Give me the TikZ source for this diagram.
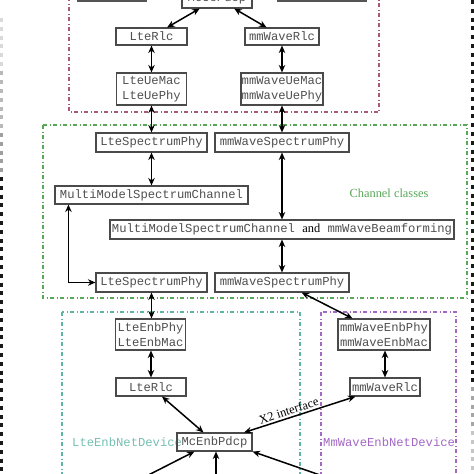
\documentclass[tikz,border=0pt]{standalone}
\usepackage{fontspec}
\setmainfont{Liberation Serif}
\newfontfamily\monofam{Liberation Mono}
\usetikzlibrary{arrows.meta}
\definecolor{boxgray}{HTML}{4A4A4A}
\definecolor{txtgray}{HTML}{505050}
\definecolor{darkbar}{HTML}{555555}
\definecolor{uered}{HTML}{A8587A}
\definecolor{chgreen}{HTML}{58A858}
\definecolor{lteteal}{HTML}{5CB4A4}
\definecolor{mmpurple}{HTML}{A468C4}
\begin{document}
\begin{tikzpicture}[x=1pt,y=-1pt,
  blk/.style={draw=boxgray, line width=1.1pt, fill=white, inner sep=0pt, text=txtgray,
    font=\monofam\fontsize{12.2}{15}\selectfont, align=center},
  bar/.style={fill=darkbar, draw=none, inner sep=0pt},
  dbl/.style={{Stealth[length=7.5pt,width=6.5pt]}-{Stealth[length=7.5pt,width=6.5pt]}, line width=1.5pt},
  one/.style={-{Stealth[length=7.5pt,width=6.5pt]}, line width=1.5pt},
  grp/.style={line width=1.1pt, dash pattern=on 4pt off 2.5pt on 1pt off 2.5pt},
  rim/.style={line width=3pt, dash pattern=on 4pt off 4.8pt},
  serif/.style={font=\fontsize{12.4}{14}\selectfont},
  devlabel/.style={font=\monofam\fontsize{12.2}{15}\selectfont, anchor=west, inner sep=0pt}]
\path[use as bounding box] (0,0) rectangle (474,474);
\clip (0,0) rectangle (474,474);

% outer rims
\draw[rim, gray!30] (1.5,18) -- (1.5,71.4);
\draw[rim, gray!55] (1.5,71.4) -- (1.5,133);
\draw[rim, gray!75] (1.5,133) -- (1.5,177);
\draw[rim, black!90] (1.5,177) -- (1.5,480);
\draw[rim, black!90] (472.5,0) -- (472.5,387);
\draw[rim, gray!70] (472.5,387) -- (472.5,431);
\draw[rim, gray!45] (472.5,431) -- (472.5,480);

% group frames
\draw[grp, uered] (69,-3) rectangle (379,112);
\draw[grp, chgreen] (43,125) rectangle (467,298);
\draw[grp, lteteal] (62,312) rectangle (300,490);
\draw[grp, mmpurple] (321,312) rectangle (456,490);

% top (cropped) boxes
\node[bar, minimum width=70pt, minimum height=22pt] (topl) at (112,-9) {};
\node[bar, minimum width=90pt, minimum height=22pt] (topr) at (322,-9) {};
\node[blk, minimum width=70pt, minimum height=19pt] (mcue) at (217,-1.5) {McUePdcp};

% UE side
\node[blk, minimum width=71pt, minimum height=17pt] (lterlc1) at (151.5,36.5) {LteRlc};
\node[blk, minimum width=74pt, minimum height=17pt] (mmrlc1) at (282,36.5) {mmWaveRlc};
\node[blk, minimum width=70pt, minimum height=32pt] (lteuemac) at (151.5,89) {LteUeMac\\LteUePhy};
\node[blk, minimum width=82pt, minimum height=32pt] (mmuemac) at (282,89) {mmWaveUeMac\\mmWaveUePhy};

% channel classes
\node[blk, minimum width=111pt, minimum height=19pt] (ltesp1) at (151.5,142.5) {LteSpectrumPhy};
\node[blk, minimum width=134pt, minimum height=19pt] (mmsp1) at (282,142.5) {mmWaveSpectrumPhy};
\node[blk, minimum width=193pt, minimum height=18pt] (mmsc) at (151.5,195) {MultiModelSpectrumChannel};
\node[serif, text=chgreen] (chlabel) at (389,193) {Channel classes};
\node[blk, minimum width=344pt, minimum height=19pt] (mmscbf) at (282,229.5)
  {MultiModelSpectrumChannel {\rmfamily\fontsize{12.4}{14}\selectfont\color{black}and} mmWaveBeamforming};
\node[blk, minimum width=111pt, minimum height=19pt] (ltesp2) at (151.5,282.5) {LteSpectrumPhy};
\node[blk, minimum width=134pt, minimum height=19pt] (mmsp2) at (282,282.5) {mmWaveSpectrumPhy};

% eNB side
\node[blk, minimum width=70pt, minimum height=31pt] (lteenbphy) at (150.5,334.5) {LteEnbPhy\\LteEnbMac};
\node[blk, minimum width=70pt, minimum height=18pt] (lterlc2) at (151,387) {LteRlc};
\node[blk, minimum width=92pt, minimum height=31pt] (mmenbphy) at (384,334.5) {mmWaveEnbPhy\\mmWaveEnbMac};
\node[blk, minimum width=70pt, minimum height=18pt] (mmrlc2) at (385,387) {mmWaveRlc};
\node[devlabel, text=lteteal!85] (ltedev) at (72,442) {LteEnbNetDevice};
\node[blk, fill=none, minimum width=75pt, minimum height=18pt] (mcenb) at (214.5,442) {McEnbPdcp};
\node[devlabel, text=mmpurple] (mmdev) at (323,442) {MmWaveEnbNetDevice};

% free ends below the picture
\coordinate (in1) at (119,490);
\coordinate (in2) at (216,490);
\coordinate (in3) at (363,490);

% connectors
\draw[dbl] (mcue) -- (lterlc1);
\draw[dbl] (mcue) -- (mmrlc1);
\draw[dbl] (lterlc1.south) -- (lterlc1.south |- lteuemac.north);
\draw[dbl] (mmrlc1.south) -- (mmrlc1.south |- mmuemac.north);
\draw[dbl] (lteuemac.south) -- (lteuemac.south |- ltesp1.north);
\draw[dbl] (mmuemac.south) -- (mmuemac.south |- mmsp1.north);
\draw[dbl] (ltesp1.south) -- (ltesp1.south |- mmsc.north);
\draw[dbl] (mmsp1.south) -- (mmsp1.south |- mmscbf.north);
\draw[dbl] (mmsp1.south |- mmscbf.south) -- (mmsp2.north);
\draw[dbl] ([xshift=14pt]mmsc.south west) |- (ltesp2.west);
\draw[dbl] (ltesp2.south) -- (ltesp2.south |- lteenbphy.north);
\draw[dbl] (mmsp2) -- (mmenbphy);
\draw[dbl] (lteenbphy.south -| lterlc2.north) -- (lterlc2.north);
\draw[dbl] (mmenbphy.south -| mmrlc2.north) -- (mmrlc2.north);
\draw[dbl] (lterlc2) -- (mcenb);
\draw[dbl] (mcenb) -- node[serif, sloped, above, pos=0.42, inner sep=2pt] {X2 interface} (mmrlc2);
\draw[one] (in1) -- ([xshift=18pt]mcenb.south west);
\draw[one] (in2) -- (in2 |- mcenb.south);
\draw[one] (in3) -- (mcenb.south east);
\end{tikzpicture}
\end{document}
